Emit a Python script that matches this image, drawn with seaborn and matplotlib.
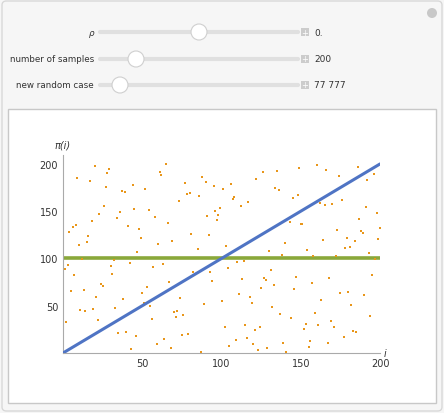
import matplotlib
matplotlib.use("Agg")
import matplotlib.pyplot as plt
import seaborn as sns
import pandas as pd
from matplotlib.patches import FancyBboxPatch, Rectangle, Ellipse

sns.set_style("white")
plt.rcParams['font.family'] = ['DejaVu Sans']

# permutation sample points (i, pi(i))
pts_i = [20,29,28,9,17,27,44,37,39,52,65,61,62,88,90,77,95,101,78,80,86,73,26,23,36,45,54,34,18,58,66,41,48,8,6,4,16,49,10,15,69,81,92,96,99,98,91,97,85,60,47,
         106,108,107,112,117,122,126,135,134,136,149,160,166,174,186,196,192,145,148,162,165,170,176,191,198,187,200,189,188,179,184,199,173,164,151,150,143,140,130,138,154,158,172,178,181,193,103,
         3,1,7,12,32,30,42,31,57,63,82,83,93,94,5,13,24,25,21,38,50,53,51,55,67,74,89,100,11,14,19,33,70,72,71,76,22,2,56,102,35,40,46,75,79,64,59,43,68,87,
         110,114,104,131,127,128,113,125,133,147,146,157,168,175,180,190,195,197,111,118,119,132,163,182,137,144,159,169,194,115,121,124,153,161,171,152,183,185,109,116,139,156,167,177,105,120,129,123,155,141]
pts_pi = [198,195,190,185,182,176,178,171,170,174,200,191,188,186,181,180,177,174,168,169,166,161,155,147,149,152,151,143,140,144,138,134,131,135,133,128,124,122,114,117,119,126,125,150,153,146,145,141,110,115,107,
          179,165,163,156,160,184,192,193,175,172,196,199,194,187,197,189,183,164,167,159,157,158,162,154,148,142,132,127,129,122,118,121,130,120,136,137,139,116,108,104,109,103,103,111,112,106,113,
          93,89,82,99,98,92,95,84,91,94,86,84,86,76,66,67,73,71,59,57,63,70,53,50,75,58,52,55,46,44,47,48,43,44,38,40,35,33,36,28,21,22,18,19,20,15,9,4,5,1,
          96,97,90,88,79,77,78,69,72,80,68,74,79,64,65,61,83,99,62,59,53,49,56,51,41,37,42,34,39,30,24,27,31,30,28,25,23,22,14,16,11,13,11,17,7,10,5,3,6,1]
ref_x = [0, 200]
diag_y = [0, 200]
flat_y = [100, 100]

fig = plt.figure(figsize=(4.44, 4.14), dpi=100)
fig.patch.set_facecolor('#f6f6f6')

# outer panel & white plot box (behind axes)
fig.add_artist(FancyBboxPatch((2/444, 2/414), 440/444, 410/414, boxstyle="round,pad=0,rounding_size=0.01",
                              transform=fig.transFigure, fc='#f6f6f6', ec='#d8d8d8', lw=1, zorder=-3))
fig.add_artist(Rectangle((8/444, 10/414), 428/444, 294/414, transform=fig.transFigure,
                         fc='white', ec='#c8c8c8', lw=1, zorder=-2))

# controls
labels = ["ρ", "number of samples", "new random case"]
values = ["0.", "200", "77 777"]
ys = [33, 60, 86]
knobs = [199, 136, 120]
for lab, val, yy, kx in zip(labels, values, ys, knobs):
    fy = 1 - yy / 414
    fig.text(94/444, fy, lab, ha='right', va='center', fontsize=6.3,
             style='italic' if lab == "ρ" else 'normal', color='#333333')
    fig.add_artist(plt.Line2D([100/444, 298/444], [fy, fy], transform=fig.transFigure,
                              color='#e0e0e0', lw=3, solid_capstyle='round', zorder=1))
    fig.add_artist(Ellipse((kx/444, fy), 16/444, 16/414, transform=fig.transFigure, fc='white',
                           ec='#cfcfcf', lw=0.8, zorder=2))
    fig.add_artist(Rectangle((301/444, fy - 4/414), 8/444, 8/414, transform=fig.transFigure,
                             fc='#cccccc', ec='none', zorder=1))
    fig.text(305/444, fy, "+", ha='center', va='center', fontsize=6, color='white')
    fig.text(314/444, fy, val, ha='left', va='center', fontsize=6.5, color='#333333')
fig.add_artist(Ellipse((432/444, 1 - 14/414), 10/444, 10/414, transform=fig.transFigure, fc='#c8c8c8', ec='none'))

ax = fig.add_axes([63/444, 60/414, 317/444, 198.5/414])
ax.set_facecolor('none')
df = pd.DataFrame({"i": pts_i, "pi": pts_pi})
sns.scatterplot(data=df, x="i", y="pi", ax=ax, color='#e8961a', marker='s', s=4, linewidth=0, zorder=3)
sns.lineplot(x=ref_x, y=flat_y, ax=ax, color='#8aa83a', lw=2.6, zorder=2)
sns.lineplot(x=ref_x, y=diag_y, ax=ax, color='#4f74c4', lw=2.2, zorder=4)
ax.set_xlim(0, 200)
ax.set_ylim(0, 210)
ax.set_xticks([50, 100, 150, 200])
ax.set_yticks([50, 100, 150, 200])
ax.set_xticks(range(10, 200, 10), minor=True)
ax.set_yticks(range(10, 210, 10), minor=True)
ax.tick_params(axis='both', which='major', length=4, width=0.8, color='#999999', labelsize=7, labelcolor='#333333', direction='in')
ax.tick_params(axis='both', which='minor', length=2, width=0.6, color='#999999', direction='in')
ax.set_xlabel("")
ax.set_ylabel("")
for s in ['top', 'right']:
    ax.spines[s].set_visible(False)
for s in ['left', 'bottom']:
    ax.spines[s].set_color('#aaaaaa')
fig.text(54/444, 1 - 146/414, "π(i)", style='italic', fontsize=7, color='#333333', ha='left', va='center')
fig.text(384/444, 1 - 354/414, "i", style='italic', fontsize=7, color='#333333', ha='left', va='center')

fig.savefig("out.png", dpi=100, facecolor=fig.get_facecolor())
